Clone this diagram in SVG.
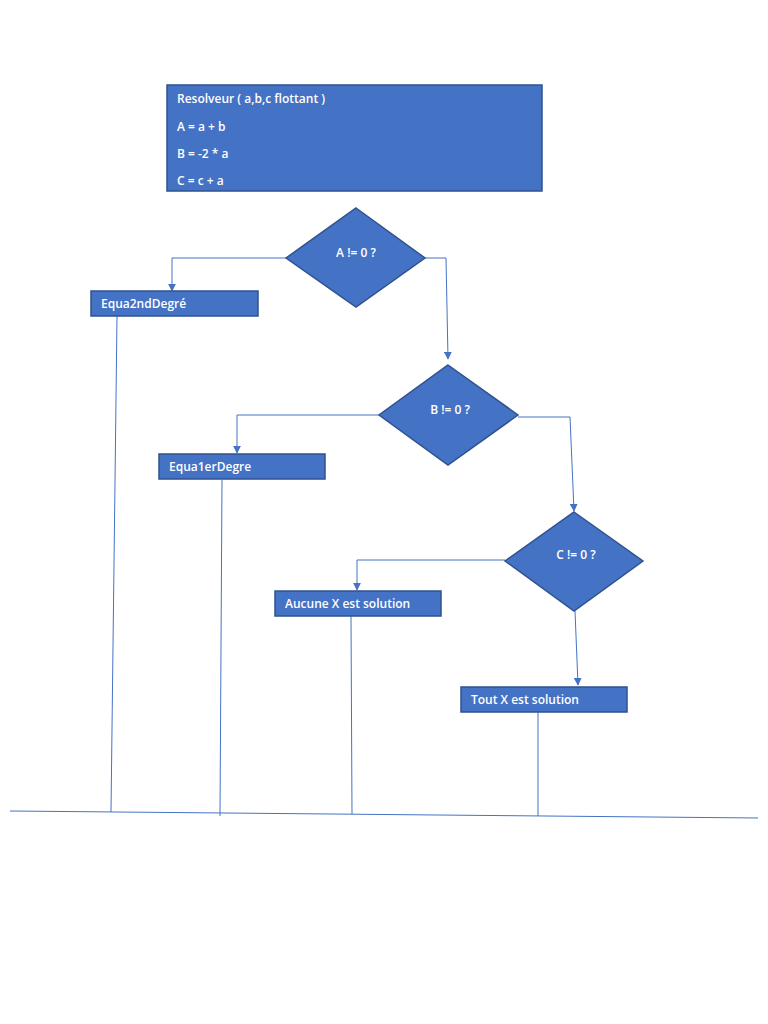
<svg xmlns="http://www.w3.org/2000/svg" width="768" height="1024" viewBox="0 0 768 1024">
<style>
.n{fill:#4472C4;stroke:#2F528F;stroke-width:1.5}
.t{fill:#fff;font-family:"Open Sans","Liberation Sans",sans-serif;font-size:12px;font-weight:600}
.c{fill:none;stroke:#4472C4;stroke-width:1}
</style>
<defs><marker id="a" viewBox="0 0 10 10" refX="9" refY="5" markerWidth="8" markerHeight="8" orient="auto"><path d="M0,0L10,5L0,10z" fill="#4472C4"/></marker></defs>
<rect width="768" height="1024" fill="#fff"/>
<g id="connectors">
<path class="c" d="M286,258H172V291" marker-end="url(#a)"/>
<path class="c" d="M425,258H446L448,359" marker-end="url(#a)"/>
<path class="c" d="M379,415H237V453" marker-end="url(#a)"/>
<path class="c" d="M518,417H570L574,511" marker-end="url(#a)"/>
<path class="c" d="M505,560H357V590" marker-end="url(#a)"/>
<path class="c" d="M575,611L578,685" marker-end="url(#a)"/>
<path class="c" d="M117,316L111,812"/>
<path class="c" d="M222,480L220,816"/>
<path class="c" d="M351,616L352,814"/>
<path class="c" d="M538,712V816"/>
<path class="c" d="M10,811L758,818"/>
</g>
<g id="start"><rect class="n" x="167" y="85" width="375" height="106"/>
<text class="t" x="177" y="103">Resolveur ( a,b,c flottant )</text>
<text class="t" x="177" y="131">A = a + b</text>
<text class="t" x="177" y="158">B = -2 * a</text>
<text class="t" x="177" y="185">C = c + a</text></g>
<g id="dA"><polygon class="n" points="356,208 425,258 356,307 286,258"/><text class="t" x="356" y="257" text-anchor="middle">A != 0 ?</text></g>
<g id="eq2"><rect class="n" x="91" y="291" width="167" height="25"/><text class="t" x="101" y="308">Equa2ndDegré</text></g>
<g id="dB"><polygon class="n" points="448,365 518,415 448,465 379,415"/><text class="t" x="450" y="414" text-anchor="middle">B != 0 ?</text></g>
<g id="eq1"><rect class="n" x="159" y="454" width="166" height="25"/><text class="t" x="169" y="471">Equa1erDegre</text></g>
<g id="dC"><polygon class="n" points="574,512 643,561 574,611 505,561"/><text class="t" x="576" y="559" text-anchor="middle">C != 0 ?</text></g>
<g id="aucune"><rect class="n" x="275" y="591" width="166" height="25"/><text class="t" x="285" y="608">Aucune  X est solution</text></g>
<g id="tout"><rect class="n" x="461" y="687" width="166" height="25"/><text class="t" x="471" y="704">Tout X est solution</text></g>
</svg>
